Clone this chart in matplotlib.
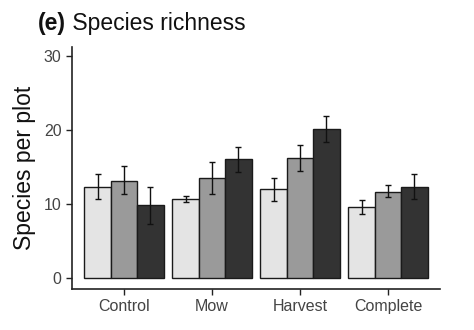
import matplotlib
matplotlib.use("Agg")
import matplotlib.pyplot as plt
import numpy as np

plt.rcParams["font.family"] = ["Liberation Sans", "DejaVu Sans"]

treatments = ["Control", "Mow", "Harvest", "Complete"]
# three levels per treatment (light, medium, dark)
means = [
    [12.3, 10.7, 12.0, 9.6],
    [13.1, 13.5, 16.2, 11.6],
    [9.8, 16.0, 20.1, 12.3],
]
lower = [
    [10.6, 10.3, 10.4, 8.7],
    [11.3, 11.4, 14.4, 10.9],
    [7.3, 14.3, 18.4, 10.7],
]
upper = [
    [14.1, 11.1, 13.5, 10.5],
    [15.1, 15.6, 17.9, 12.5],
    [12.3, 17.7, 21.9, 14.0],
]
colors = ["#e4e4e4", "#9a9a9a", "#333333"]

fig = plt.figure(figsize=(4.74, 3.30), dpi=100)
ax = fig.add_axes([0.152, 0.124, 0.776, 0.734])

x = np.arange(1, len(treatments) + 1)
width = 0.30
for i in range(3):
    m = np.array(means[i])
    lo = m - np.array(lower[i])
    hi = np.array(upper[i]) - m
    pos = x + (i - 1) * width
    ax.bar(pos, m, width, color=colors[i], edgecolor="#1a1a1a", linewidth=1.0, zorder=2)
    ax.errorbar(pos, m, yerr=[lo, hi], fmt="none", ecolor="#111111",
                elinewidth=1.0, capsize=2, capthick=1.0, zorder=3)

ax.set_xlim(0.41, 4.59)
ax.set_ylim(-1.5, 31.2)
ax.set_yticks([0, 10, 20, 30])
ax.set_xticks(x)
ax.set_xticklabels(treatments)
ax.spines["top"].set_visible(False)
ax.spines["right"].set_visible(False)
for s in ["left", "bottom"]:
    ax.spines[s].set_linewidth(1.2)
    ax.spines[s].set_color("#222222")
ax.tick_params(axis="both", colors="#222222", labelcolor="#444444",
               labelsize=11.5, length=4, width=1.0)
ax.set_ylabel("Species per plot", fontsize=16.5, color="#111111", labelpad=6)

t1 = fig.text(0.08, 0.91, "(e)", fontsize=16.5, fontweight="bold", color="#111111",
              va="baseline", ha="left")
ax.annotate(" Species richness", xy=(1, 0), xycoords=t1, va="bottom", ha="left",
            fontsize=16.5, color="#111111", annotation_clip=False)

fig.savefig("out.png", dpi=100)
